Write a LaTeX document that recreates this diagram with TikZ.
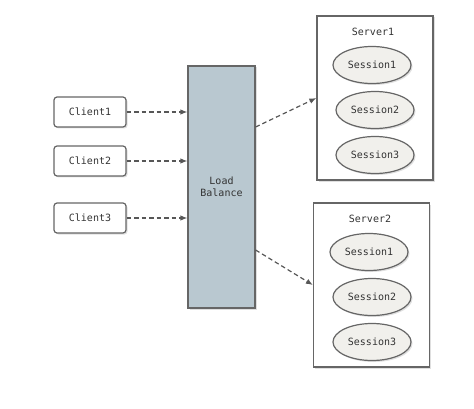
\documentclass[tikz,border=0pt]{standalone}
\usepackage{fontspec}
\setmonofont{DejaVu Sans Mono}
\usetikzlibrary{arrows.meta,shadows,shapes.geometric}
\definecolor{lbfill}{HTML}{B9C8D0}
\definecolor{sessfill}{HTML}{F1F0EC}
\definecolor{edgegray}{HTML}{666666}
\definecolor{txtgray}{HTML}{333333}
\begin{document}
\begin{tikzpicture}[x=1pt,y=-1pt,
	every node/.style={font=\ttfamily\fontsize{10}{12}\selectfont,text=txtgray},
	shade/.style={drop shadow={shadow xshift=1.5pt,shadow yshift=-1.5pt,opacity=0.25}},
	client/.style={draw=edgegray,line width=1.2pt,fill=white,rounded corners=3pt,minimum width=72pt,minimum height=30pt,shade},
	balancer/.style={draw=edgegray,line width=1.2pt,fill=lbfill,minimum width=67pt,minimum height=242pt,align=center,shade},
	server/.style={draw=edgegray,line width=1.2pt,fill=white,minimum width=116pt,minimum height=164pt,shade},
	session/.style={draw=edgegray,line width=1.2pt,fill=sessfill,ellipse,minimum width=78pt,minimum height=37pt,shade},
	link/.style={draw=edgegray!85!black,line width=1.2pt,dash pattern=on 4.5pt off 3pt,-{Latex[length=7pt,width=5.5pt]}}]
	\useasboundingbox (0,0) rectangle (474,409);
	% clients
	\node[client] (c1) at (90,112) {Client1};
	\node[client] (c2) at (90,161) {Client2};
	\node[client] (c3) at (90,218) {Client3};
	% load balancer
	\node[balancer] (lb) at (221.5,187) {Load\\Balance};
	% servers
	\node[server] (s1) at (375,98) {};
	\node (s1t) at (373,32) {Server1};
	\node[session] (s1a) at (372,65) {Session1};
	\node[session] (s1b) at (375,110) {Session2};
	\node[session] (s1c) at (375,155) {Session3};
	\node[server] (s2) at (371.5,285) {};
	\node (s2t) at (370,219) {Server2};
	\node[session] (s2a) at (369,252) {Session1};
	\node[session] (s2b) at (372,297) {Session2};
	\node[session] (s2c) at (372,342) {Session3};
	% links
	\draw[link] (c1.east) -- (c1.east -| lb.west);
	\draw[link] (c2.east) -- (c2.east -| lb.west);
	\draw[link] (c3.east) -- (c3.east -| lb.west);
	\draw[link] ([yshift=60pt]lb.east) -- (s1.west);
	\draw[link] ([yshift=-63pt]lb.east) -- (s2.west);
\end{tikzpicture}
\end{document}
